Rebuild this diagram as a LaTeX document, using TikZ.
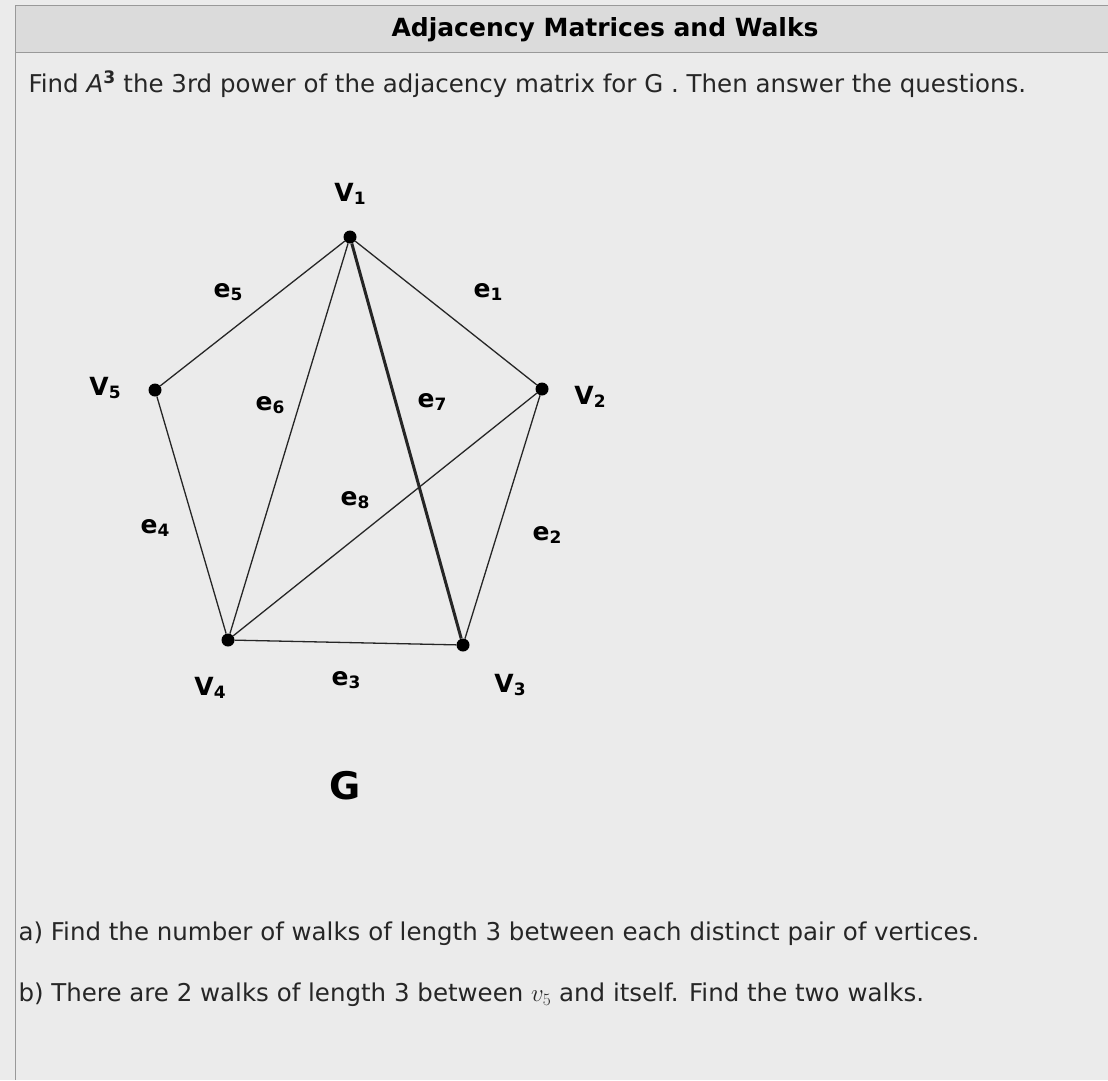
\documentclass[tikz,border=0pt]{standalone}
\usepackage{fontspec}
\setmainfont{DejaVu Sans}
\newcommand{\sbx}[1]{\raisebox{-0.25ex}{\fontsize{17}{18}\selectfont #1}}
\begin{document}
\begin{tikzpicture}[x=1pt,y=-1pt,
  vert/.style={circle,fill=black,inner sep=0pt,minimum size=13pt},
  lab/.style={font=\bfseries\fontsize{25}{28}\selectfont},
  edge/.style={line width=1.3pt,black!85},
  txt/.style={anchor=west,font=\fontsize{24.5}{28}\selectfont,text=black!85}]
\useasboundingbox (0,0) rectangle (1108,1080);
\fill[black!8] (0,0) rectangle (1108,1080);
\fill[black!14] (15,5) rectangle (1108,52);
\draw[black!40,line width=1pt] (15,5) -- (1108,5);
\draw[black!40,line width=1pt] (15,52) -- (1108,52);
\draw[black!40,line width=1pt] (15,5) -- (15,1080);
\node[font=\bfseries\fontsize{25}{28}\selectfont] (title) at (605,30) {Adjacency Matrices and Walks};
\node[txt] (q0) at (25,84) {Find \emph{A}$^{\mathbf 3}$ the 3rd power of the adjacency matrix for G . Then answer the questions.};
\node[vert] (v1) at (350,237) {};
\node[vert] (v2) at (542,389) {};
\node[vert] (v3) at (463,645) {};
\node[vert] (v4) at (228,640) {};
\node[vert] (v5) at (155,390) {};
\draw[edge] (v1) -- (v2);
\draw[edge] (v2) -- (v3);
\draw[edge] (v4) -- (v3);
\draw[edge] (v5) -- (v4);
\draw[edge] (v5) -- (v1);
\draw[edge] (v1) -- (v4);
\draw[edge,line width=3pt] (v1) -- (v3);
\draw[edge] (v4) -- (v2);
\node[lab] (l1) at (350,194) {V\sbx{1}};
\node[lab] (l2) at (590,397) {V\sbx{2}};
\node[lab] (l3) at (510,685) {V\sbx{3}};
\node[lab] (l4) at (210,688) {V\sbx{4}};
\node[lab] (l5) at (105,388) {V\sbx{5}};
\node[lab] (e5) at (228,292) {e\sbx{5}};
\node[lab] (e1) at (488,292) {e\sbx{1}};
\node[lab] (e6) at (270,405) {e\sbx{6}};
\node[lab] (e7) at (432,402) {e\sbx{7}};
\node[lab] (e8) at (355,500) {e\sbx{8}};
\node[lab] (e4) at (155,528) {e\sbx{4}};
\node[lab] (e2) at (547,535) {e\sbx{2}};
\node[lab] (e3) at (346,680) {e\sbx{3}};
\node[font=\bfseries\fontsize{38}{42}\selectfont] (g) at (345,786) {G};
\node[txt] (qa) at (15,934) {a) Find the number of walks of length 3 between each distinct pair of vertices.};
\node[txt] (qb) at (15,995) {b) There are 2 walks of length 3 between $v_5$ and itself. Find the two walks.};
\end{tikzpicture}
\end{document}
